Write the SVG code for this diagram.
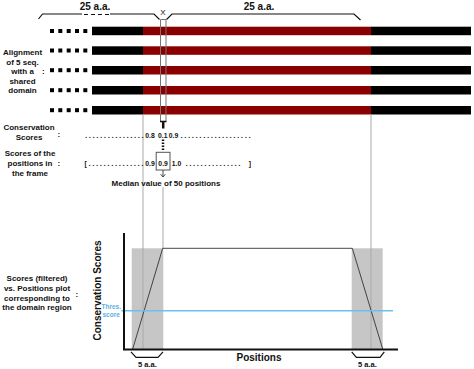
<svg xmlns="http://www.w3.org/2000/svg" width="474" height="369" viewBox="0 0 474 369">
<style>
.t{font-family:"Liberation Sans",Arial,sans-serif;font-weight:bold;font-size:8px;fill:#111}
.big{font-size:10px}
.sm{font-size:7.5px}
.c{text-anchor:middle}
.n{font-family:"Liberation Sans",Arial,sans-serif;font-weight:bold;font-size:6.8px;fill:#111}
.dots{font-family:"Liberation Sans",Arial,sans-serif;font-weight:bold;font-size:8px;fill:#222;letter-spacing:1.55px}
.thr{font-family:"Liberation Sans",Arial,sans-serif;font-weight:bold;font-size:6.5px;fill:#5ab0e4}
.blk{fill:#000}
.red{fill:#8a0000}
.sq{fill:#000}
.vl{stroke:#aaa;stroke-width:1;fill:none}
.br{stroke:#111;stroke-width:1.2;fill:none}
</style>
<rect width="474" height="369" fill="#fff"/>

<g id="top-brace">
<polyline class="br" points="38.5,19 42.5,14 82,14"/>
<line class="br" x1="84" y1="14.5" x2="110" y2="14.5" stroke-dasharray="4,3"/>
<polyline class="br" points="110,14 154,14 159.5,19.5"/>
<polyline class="br" points="166.5,19.5 172,14 354,14 360.5,20"/>
<text class="t big c" x="95" y="10">25 a.a.</text>
<text class="t big c" x="259" y="10">25 a.a.</text>
<text class="t c" x="163" y="15" style="font-weight:normal">X</text>
</g>

<g id="alignment">
<g id="seq1">
<rect class="sq" x="50" y="29" width="4" height="4"/><rect class="sq" x="58.3" y="29" width="4" height="4"/><rect class="sq" x="66.7" y="29" width="4" height="4"/><rect class="sq" x="75" y="29" width="4" height="4"/><rect class="sq" x="83.3" y="29" width="4" height="4"/>
<rect class="blk" x="92" y="26.7" width="51" height="8.5"/><rect class="red" x="143" y="26.7" width="228" height="8.5"/><rect class="blk" x="371" y="26.7" width="100" height="8.5"/>
</g>
<g id="seq2">
<rect class="sq" x="50" y="48.5" width="4" height="4"/><rect class="sq" x="58.3" y="48.5" width="4" height="4"/><rect class="sq" x="66.7" y="48.5" width="4" height="4"/><rect class="sq" x="75" y="48.5" width="4" height="4"/><rect class="sq" x="83.3" y="48.5" width="4" height="4"/>
<rect class="blk" x="92" y="46.3" width="51" height="8.5"/><rect class="red" x="143" y="46.3" width="228" height="8.5"/><rect class="blk" x="371" y="46.3" width="100" height="8.5"/>
</g>
<g id="seq3">
<rect class="sq" x="50" y="68.2" width="4" height="4"/><rect class="sq" x="58.3" y="68.2" width="4" height="4"/><rect class="sq" x="66.7" y="68.2" width="4" height="4"/><rect class="sq" x="75" y="68.2" width="4" height="4"/><rect class="sq" x="83.3" y="68.2" width="4" height="4"/>
<rect class="blk" x="92" y="66" width="51" height="8.5"/><rect class="red" x="143" y="66" width="228" height="8.5"/><rect class="blk" x="371" y="66" width="100" height="8.5"/>
</g>
<g id="seq4">
<rect class="sq" x="50" y="88.2" width="4" height="4"/><rect class="sq" x="58.3" y="88.2" width="4" height="4"/><rect class="sq" x="66.7" y="88.2" width="4" height="4"/><rect class="sq" x="75" y="88.2" width="4" height="4"/><rect class="sq" x="83.3" y="88.2" width="4" height="4"/>
<rect class="blk" x="92" y="86" width="51" height="8.5"/><rect class="red" x="143" y="86" width="228" height="8.5"/><rect class="blk" x="371" y="86" width="100" height="8.5"/>
</g>
<g id="seq5">
<rect class="sq" x="50" y="108.2" width="4" height="4"/><rect class="sq" x="58.3" y="108.2" width="4" height="4"/><rect class="sq" x="66.7" y="108.2" width="4" height="4"/><rect class="sq" x="75" y="108.2" width="4" height="4"/><rect class="sq" x="83.3" y="108.2" width="4" height="4"/>
<rect class="blk" x="92" y="106" width="51" height="8.5"/><rect class="red" x="143" y="106" width="228" height="8.5"/><rect class="blk" x="371" y="106" width="100" height="8.5"/>
</g>
<text class="t c" x="22.5"><tspan x="22.5" y="55">Alignment</tspan><tspan x="22.5" y="64.5">of 5 seq.</tspan><tspan x="22.5" y="74">with a</tspan><tspan x="22.5" y="83.5">shared</tspan><tspan x="22.5" y="93">domain</tspan></text>
<text class="t" x="42" y="74">:</text>
</g>

<g id="connectors">
<line class="vl" x1="143" y1="114.5" x2="143" y2="349"/>
<line class="vl" x1="371" y1="114.5" x2="371" y2="349"/>
<line class="vl" x1="163" y1="187" x2="163" y2="248.5" stroke="#888"/>
<line x1="163" y1="139.5" x2="163" y2="151" stroke="#111" stroke-width="2.5" stroke-dasharray="1.6,1.4"/>
<line x1="163" y1="170" x2="163" y2="177" stroke="#333" stroke-width="0.9"/>
<polyline points="160.6,174.2 163,177 165.4,174.2" fill="none" stroke="#333" stroke-width="0.9"/>
</g>

<g id="frame">
<line x1="160.5" y1="19.5" x2="160.5" y2="121" stroke="#777" stroke-width="1"/>
<line x1="166" y1="19.5" x2="166" y2="121" stroke="#777" stroke-width="1"/>
<line x1="160.5" y1="19.5" x2="166" y2="19.5" stroke="#777" stroke-width="1"/>
<line x1="160" y1="121.5" x2="166.5" y2="121.5" stroke="#111" stroke-width="1.5"/>
<line x1="163.2" y1="121.5" x2="163.2" y2="128.5" stroke="#111" stroke-width="2.5"/>
</g>

<g id="conservation-scores">
<text class="t c"><tspan x="29" y="130">Conservation</tspan><tspan x="29" y="140">Scores</tspan></text>
<text class="t" x="57.5" y="137">:</text>
<text class="dots" x="85" y="138">................</text>
<text class="n" x="145.3" y="138">0.8</text>
<text class="n c" x="162.8" y="138">0.1</text>
<text class="n" x="168.8" y="138">0.9</text>
<text class="dots" x="180.5" y="138">...................</text>
</g>

<g id="frame-scores">
<text class="t c"><tspan x="30" y="156">Scores of the</tspan><tspan x="30" y="166">positions in</tspan><tspan x="30" y="175.5">the frame</tspan></text>
<text class="t" x="57.5" y="166">:</text>
<text class="n" x="84.5" y="165.5">[</text>
<text class="dots" x="88.5" y="165.5">...............</text>
<text class="n" x="145.3" y="165.5">0.9</text>
<rect x="156.2" y="152.3" width="13.8" height="17.7" fill="none" stroke="#555" stroke-width="1"/>
<text class="n c" x="163.1" y="165.5">0.9</text>
<text class="n" x="171.8" y="165.5">1.0</text>
<text class="dots" x="185.5" y="165.5">...............</text>
<text class="n" x="248.8" y="165.5">]</text>
<text class="t c" x="166" y="186">Median value of 50 positions</text>
</g>

<g id="plot">
<rect x="131.7" y="248.3" width="31.6" height="100.7" fill="#c6c6c6"/>
<rect x="351.7" y="248.3" width="31" height="100.7" fill="#c6c6c6"/>
<line class="vl" x1="143" y1="248.3" x2="143" y2="349" stroke="#999"/>
<line class="vl" x1="371" y1="248.3" x2="371" y2="349" stroke="#999"/>
<polyline points="132.7,349 162.7,248.3 352.3,248.3 382.7,349" fill="none" stroke="#333" stroke-width="0.9"/>
<line x1="121.5" y1="310.7" x2="393" y2="310.7" stroke="#6cc0ec" stroke-width="1.4"/>
<polyline points="124,233 124,349.5 398,349.5" fill="none" stroke="#111" stroke-width="2"/>
<text class="thr"><tspan x="101.5" y="309">Thres.</tspan><tspan x="102.5" y="316.5">score</tspan></text>
<text class="t big c" transform="translate(100.5,290.5) rotate(-90)">Conservation Scores</text>
<text class="t big c" x="259" y="361">Positions</text>
<polyline class="br" points="131,351.8 136,357.3 158,357.3 163,351.8"/>
<polyline class="br" points="351.7,351.8 356.3,357.3 380,357.3 384.3,351.8"/>
<text class="t sm c" x="147.5" y="367">5 a.a.</text>
<text class="t sm c" x="367.5" y="367">5 a.a.</text>
<text class="t c"><tspan x="37" y="281">Scores (filtered)</tspan><tspan x="37" y="290.5">vs. Positions plot</tspan><tspan x="37" y="300.5">corresponding to</tspan><tspan x="37" y="310">the domain region</tspan></text>
<text class="t" x="75.5" y="297">:</text>
</g>
</svg>
